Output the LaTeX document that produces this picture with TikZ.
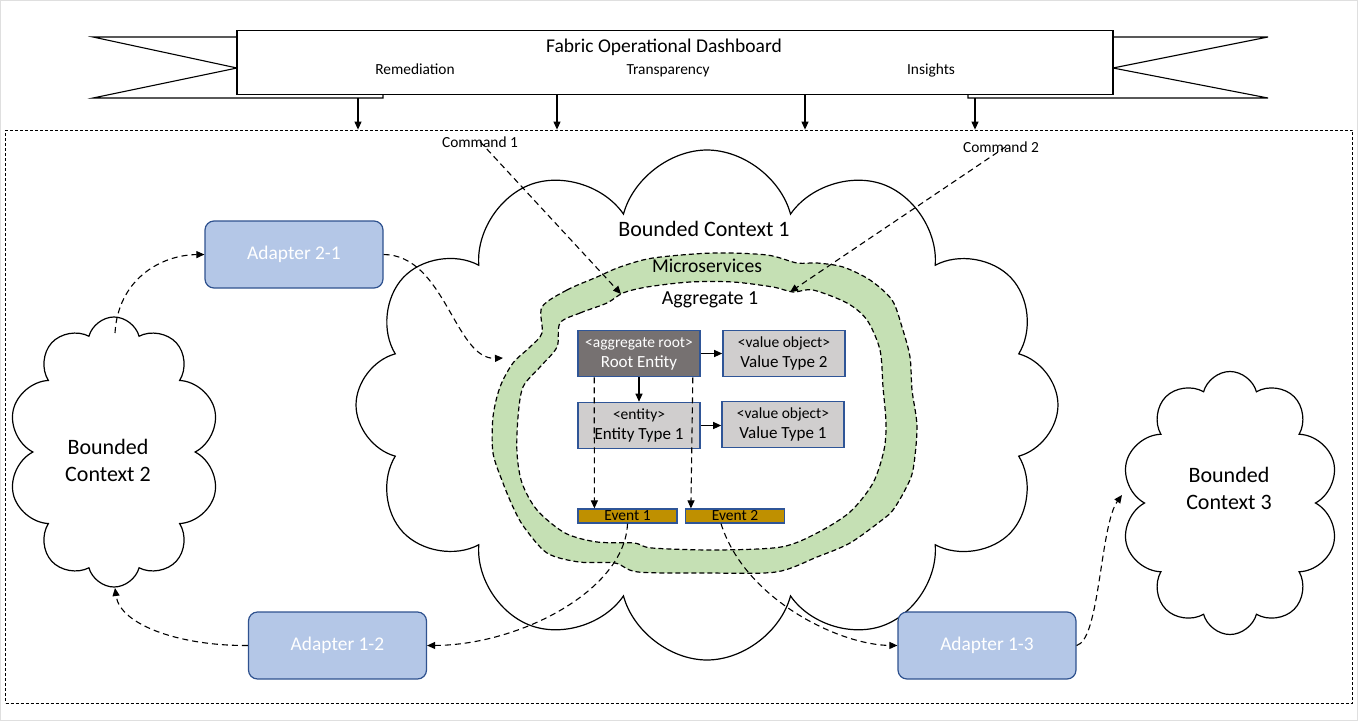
\documentclass[tikz,border=0pt]{standalone}
\usepackage{fontspec}
\setmainfont{Carlito}
\usetikzlibrary{positioning,shapes,arrows,arrows.meta,calc}
\definecolor{adapterblue}{RGB}{180,199,231}
\definecolor{adapterline}{RGB}{47,82,143}
\definecolor{boxline}{RGB}{47,85,151}
\definecolor{valuegray}{RGB}{208,206,206}
\definecolor{rootgray}{RGB}{118,113,113}
\definecolor{eventgold}{RGB}{191,144,0}
\definecolor{ringgreen}{RGB}{197,224,180}

\tikzset{
  adapter/.style={rectangle, rounded corners=9pt, draw=adapterline, line width=1.2pt, fill=adapterblue,
    minimum width=178pt, minimum height=67pt, text=white, font=\fontsize{19.4}{22}\selectfont},
  objbox/.style={rectangle, draw=boxline, line width=1.6pt, fill=valuegray, minimum width=122pt,
    minimum height=46pt, align=center, inner sep=1pt, font=\fontsize{16}{20}\selectfont},
  eventbox/.style={rectangle, draw=boxline, line width=1.2pt, fill=eventgold, minimum width=99pt,
    minimum height=14pt, inner sep=0pt, font=\fontsize{15.5}{15.5}\selectfont},
  bcloud/.style={cloud, draw, line width=1.2pt, fill=white, inner sep=0pt, cloud ignores aspect},
  bclabel/.style={align=center, inner sep=0pt, font=\fontsize{22}{27}\selectfont},
  smalllabel/.style={inner sep=0pt, font=\fontsize{15.4}{18}\selectfont},
  flow/.style={->, dash pattern=on 6pt off 4pt, line width=1.1pt},
  link/.style={->, line width=1.1pt},
  >={Triangle[length=8pt,width=7pt]}
}

\begin{document}
\begin{tikzpicture}[x=1pt, y=-1pt]
\useasboundingbox (0,0) rectangle (1358,721);
\draw[gray!25] (0.5,0.5) rectangle (1357.5,720.5);

% Dashboard banner
\draw[line width=1.1pt, fill=white] (237,37) -- (93,37) -- (237,68) -- (93,98) -- (383,98) -- (383,95);
\draw[line width=1.1pt, fill=white] (1113,37) -- (1268,37) -- (1113,68) -- (1268,98) -- (968,98) -- (968,95);
\node[draw, line width=1.1pt, fill=white, minimum width=876pt, minimum height=64pt] (dash) at (675,62.5) {};
\node[anchor=base, inner sep=0pt, font=\fontsize{19.5}{22}\selectfont] (title) at (664,52) {Fabric Operational Dashboard};
\node[smalllabel, anchor=base] (remed) at (415,74) {Remediation};
\node[smalllabel, anchor=base] (transp) at (668,74) {Transparency};
\node[smalllabel, anchor=base] (insight) at (931,74) {Insights};

% Outer frame
\node[draw, line width=0.8pt, dash pattern=on 3pt off 2pt, minimum width=1347pt, minimum height=573pt] (frame) at (679,416.5) {};
\foreach \x in {358,975} \draw[link] (\x,98) -- (frame.north -| \x,0);
\foreach \x in {557,805} \draw[link] (dash.south -| \x,0) -- (frame.north -| \x,0);

% Bounded contexts
\node[bcloud, cloud puffs=12, minimum width=702pt, minimum height=510pt] (bc1) at (707,405) {};
\node[bcloud, cloud puffs=10, minimum width=212pt, minimum height=270pt] (bc2) at (114,452) {};
\node[bcloud, cloud puffs=10, minimum width=218pt, minimum height=263pt] (bc3) at (1230,503) {};
\node[bclabel] (bc1text) at (704,229) {Bounded Context 1};
\node[bclabel] (bc2text) at (108,460) {Bounded\\Context 2};
\node[bclabel] (bc3text) at (1229,488) {Bounded\\Context 3};

% Microservices ring
\draw[line width=1.2pt, dash pattern=on 5pt off 3pt, fill=ringgreen, even odd rule]
  plot[smooth cycle, tension=0.5] coordinates {(542,307) (567,290) (597,277) (620,267) (653,258) (713,253)
    (767,255) (797,263) (817,263) (843,267) (870,280) (892,300) (902,327) (910,357) (912,390) (917,427)
    (913,470) (905,490) (893,510) (882,520) (850,543) (817,557) (776,572) (707,573) (638,572) (615,563)
    (579,562) (547,553) (524,527) (513,507) (503,483) (493,453) (493,417) (500,387) (513,363) (530,347)
    (542,333)}
  plot[smooth cycle, tension=0.5] coordinates {(560,323) (580,313) (607,303) (623,293) (647,287) (690,282)
    (733,282) (773,287) (793,292) (813,290) (847,303) (867,320) (880,350) (883,387) (886,423) (884,450)
    (873,483) (850,512) (817,533) (781,547) (716,550) (652,548) (634,543) (597,542) (565,533) (537,510)
    (522,483) (517,453) (518,417) (523,387) (540,367) (557,347)};
\node[inner sep=0pt, font=\fontsize{19.6}{22}\selectfont] (micro) at (707,266) {Microservices};
\node[inner sep=0pt, font=\fontsize{19.9}{22}\selectfont] (agg) at (710,300) {Aggregate 1};

% Aggregate content
\node[objbox, fill=rootgray, text=white] (root) at (639,353.5) {{\fontsize{15.5}{17}\selectfont <aggregate root>}\\{\fontsize{17}{19}\selectfont Root Entity}};
\node[objbox] (val2) at (784,353.5) {{\fontsize{15.5}{17}\selectfont <value object>}\\{\fontsize{17}{19}\selectfont Value Type 2}};
\node[objbox] (ent) at (639,425.5) {{\fontsize{15.5}{17}\selectfont <entity>}\\{\fontsize{17}{19}\selectfont Entity Type 1}};
\node[objbox] (val1) at (783,424.5) {{\fontsize{15.5}{17}\selectfont <value object>}\\{\fontsize{17}{19}\selectfont Value Type 1}};
\node[eventbox] (ev1) at (627.5,516) {Event 1};
\node[eventbox] (ev2) at (735,516) {Event 2};

\draw[link] (root) -- (val2);
\draw[link] (root) -- (ent);
\draw[link] (ent.east) -- (ent.east -| val1.west);
\draw[flow] ([xshift=17pt]root.south west) -- ([xshift=17pt]ev1.north west);
\draw[flow] ([xshift=-8pt]root.south east) -- ([xshift=6pt]ev2.north west);

% Commands
\node[smalllabel] (cmd1) at (480,142) {Command 1};
\node[smalllabel] (cmd2) at (1001,147) {Command 2};
\coordinate (cmd1end) at (621,294);
\coordinate (cmd2end) at (790,292);
\draw[flow] ([yshift=6pt]cmd1.south) -- (cmd1end);
\draw[flow] ([xshift=5pt,yshift=6pt]cmd2.south) -- (cmd2end);

% Adapters
\node[adapter] (ad21) at (294,254.5) {Adapter 2-1};
\node[adapter] (ad12) at (337.5,645.5) {Adapter 1-2};
\node[adapter] (ad13) at (987,645.5) {Adapter 1-3};

\coordinate (bc2top) at (115,333);
\coordinate (bc2bot) at (115,588);
\coordinate (bc3left) at (1122,495);
\coordinate (ringleft) at (503,358);
\draw[flow] (bc2top) .. controls (118,280) and (160,255) .. (ad21.west);
\draw[flow] (ad21.east) .. controls (445,255) and (455,360) .. (ringleft);
\draw[flow] (ev1.south) .. controls (625,590) and (520,645) .. (ad12.east);
\draw[flow] (ad12.west) .. controls (180,646) and (120,625) .. (bc2bot);
\draw[flow] ([xshift=-14pt]ev2.south) .. controls (745,600) and (840,645) .. (ad13.west);
\draw[flow] (ad13.east) .. controls (1100,640) and (1100,525) .. (bc3left);
\end{tikzpicture}
\end{document}
